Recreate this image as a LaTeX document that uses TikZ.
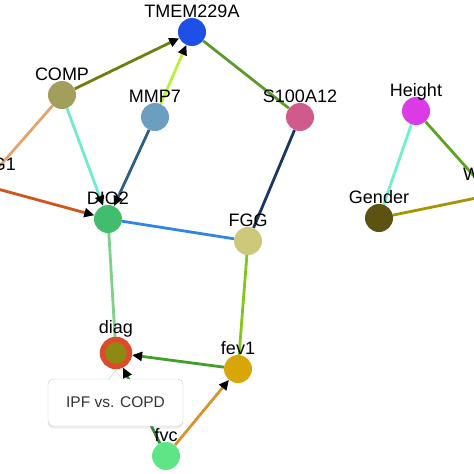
\documentclass[tikz,border=0pt]{standalone}
\usepackage{fontspec}
\setmainfont{Liberation Sans}
\usetikzlibrary{arrows.meta, backgrounds, calc, shadows}

% node colours
\definecolor{tmemc}{HTML}{1E4FE6}
\definecolor{compc}{HTML}{A39E5C}
\definecolor{mmpc}{HTML}{6B9EBF}
\definecolor{s100c}{HTML}{D15A8C}
\definecolor{dioc}{HTML}{42BD6E}
\definecolor{fggc}{HTML}{CCCA7A}
\definecolor{diagring}{HTML}{DB4B2C}
\definecolor{diagc}{HTML}{8C8A12}
\definecolor{fevc}{HTML}{D9A608}
\definecolor{fvcc}{HTML}{5EE585}
\definecolor{heightc}{HTML}{DA3BE6}
\definecolor{genderc}{HTML}{5C5212}
% edge colours
\definecolor{eCompTmem}{HTML}{6E7F0A}
\definecolor{eMmpTmem}{HTML}{B8F03C}
\definecolor{eTmemS}{HTML}{5C9A2E}
\definecolor{eCompDio}{HTML}{6FEBD0}
\definecolor{eMmpDio}{HTML}{2F5F7F}
\definecolor{eGComp}{HTML}{E2A46E}
\definecolor{eGDio}{HTML}{D2541A}
\definecolor{eDioFgg}{HTML}{2F86E6}
\definecolor{eSFgg}{HTML}{1C3562}
\definecolor{eDioDiag}{HTML}{7FD089}
\definecolor{eFggFev}{HTML}{86C41E}
\definecolor{eFevDiag}{HTML}{3FA02A}
\definecolor{eFvcFev}{HTML}{D8922E}
\definecolor{eFvcDiag}{HTML}{2E8A3A}
\definecolor{eHG}{HTML}{72F0CC}
\definecolor{eHW}{HTML}{5AA41E}
\definecolor{eGW}{HTML}{A89400}

\begin{document}
\begin{tikzpicture}[
    x=1pt, y=-1pt,
    gene/.style={circle, minimum size=28pt, inner sep=0pt, fill=#1,
      label distance=4.5pt},
    lbl/.style={font=\fontsize{18}{20}\selectfont, inner sep=0pt, anchor=base},
    link/.style={line width=2.8pt, draw=#1},
    arrow/.style={link=#1, -{Triangle[length=10pt, width=9pt, black]}},
    tip/.style={draw=black!22, fill=white, rounded corners=5pt,
      minimum width=135pt, minimum height=47pt, text=black!80,
      font=\fontsize{15.5}{18}\selectfont,
      drop shadow={opacity=0.14, shadow xshift=0pt, shadow yshift=-2.5pt}}
]
\useasboundingbox (0,0) rectangle (474,474);

\node[gene=tmemc, label={[lbl]above:TMEM229A}] (tmem) at (192,32) {};
\node[gene=compc, label={[lbl]above:COMP}] (comp) at (62,95) {};
\node[gene=mmpc, label={[lbl]above:MMP7}] (mmp) at (155,117) {};
\node[gene=s100c, label={[lbl]above:S100A12}] (s100) at (300,117) {};
\node[gene=dioc, label={[lbl]above:DIO2}] (dio) at (108,219) {};
\node[gene=fggc, label={[lbl]above:FGG}] (fgg) at (248,241) {};
\node[gene=diagc, minimum size=27pt, draw=diagring, line width=5.5pt,
  label={[lbl, label distance=3pt]above:diag}] (diag) at (116,353) {};
\node[gene=fevc, label={[lbl]above:fev1}] (fev) at (238,369) {};
\node[gene=fvcc, label={[lbl]above:fvc}] (fvc) at (166,456) {};
\node[gene=gray!50, label={[lbl, anchor=base east, xshift=33pt]above:G1}] (gone) at (-17,185) {};
\node[gene=heightc, label={[lbl]above:Height}] (height) at (416,111) {};
\node[gene=genderc, label={[lbl]above:Gender}] (gender) at (379,218) {};
\node[gene=gray!50, label={[lbl]above:Weight}] (weight) at (491,195) {};

\begin{scope}[on background layer]
\draw[arrow=eCompTmem] (comp) -- (tmem);
\draw[arrow=eMmpTmem] (mmp) -- (tmem);
\draw[link=eTmemS] (tmem) -- (s100);
\draw[arrow=eCompDio] (comp) -- (dio);
\draw[arrow=eMmpDio] (mmp) -- (dio);
\draw[link=eGComp] (gone) -- (comp);
\draw[arrow=eGDio] (gone) -- (dio);
\draw[link=eDioFgg] (dio) -- (fgg);
\draw[link=eSFgg] (s100) -- (fgg);
\draw[link=eDioDiag] (dio) -- (diag);
\draw[link=eFggFev] (fgg) -- (fev);
\draw[arrow=eFevDiag] (fev) -- (diag);
\draw[arrow=eFvcFev] (fvc) -- (fev);
\draw[arrow=eFvcDiag] (fvc) -- (diag);
\draw[link=eHG] (height) -- (gender);
\draw[link=eHW] (height) -- (weight);
\draw[link=eGW] (gender) -- (weight);
\end{scope}

% tooltip
\node[tip] (note) at (115.5,402.5) {IPF vs. COPD};
\filldraw[draw=black!22, fill=white, line width=0.4pt]
  ($(note.north)+(-7,0.8)$) -- ($(note.north)+(0,-8)$) -- ($(note.north)+(7,0.8)$);
\end{tikzpicture}
\end{document}
